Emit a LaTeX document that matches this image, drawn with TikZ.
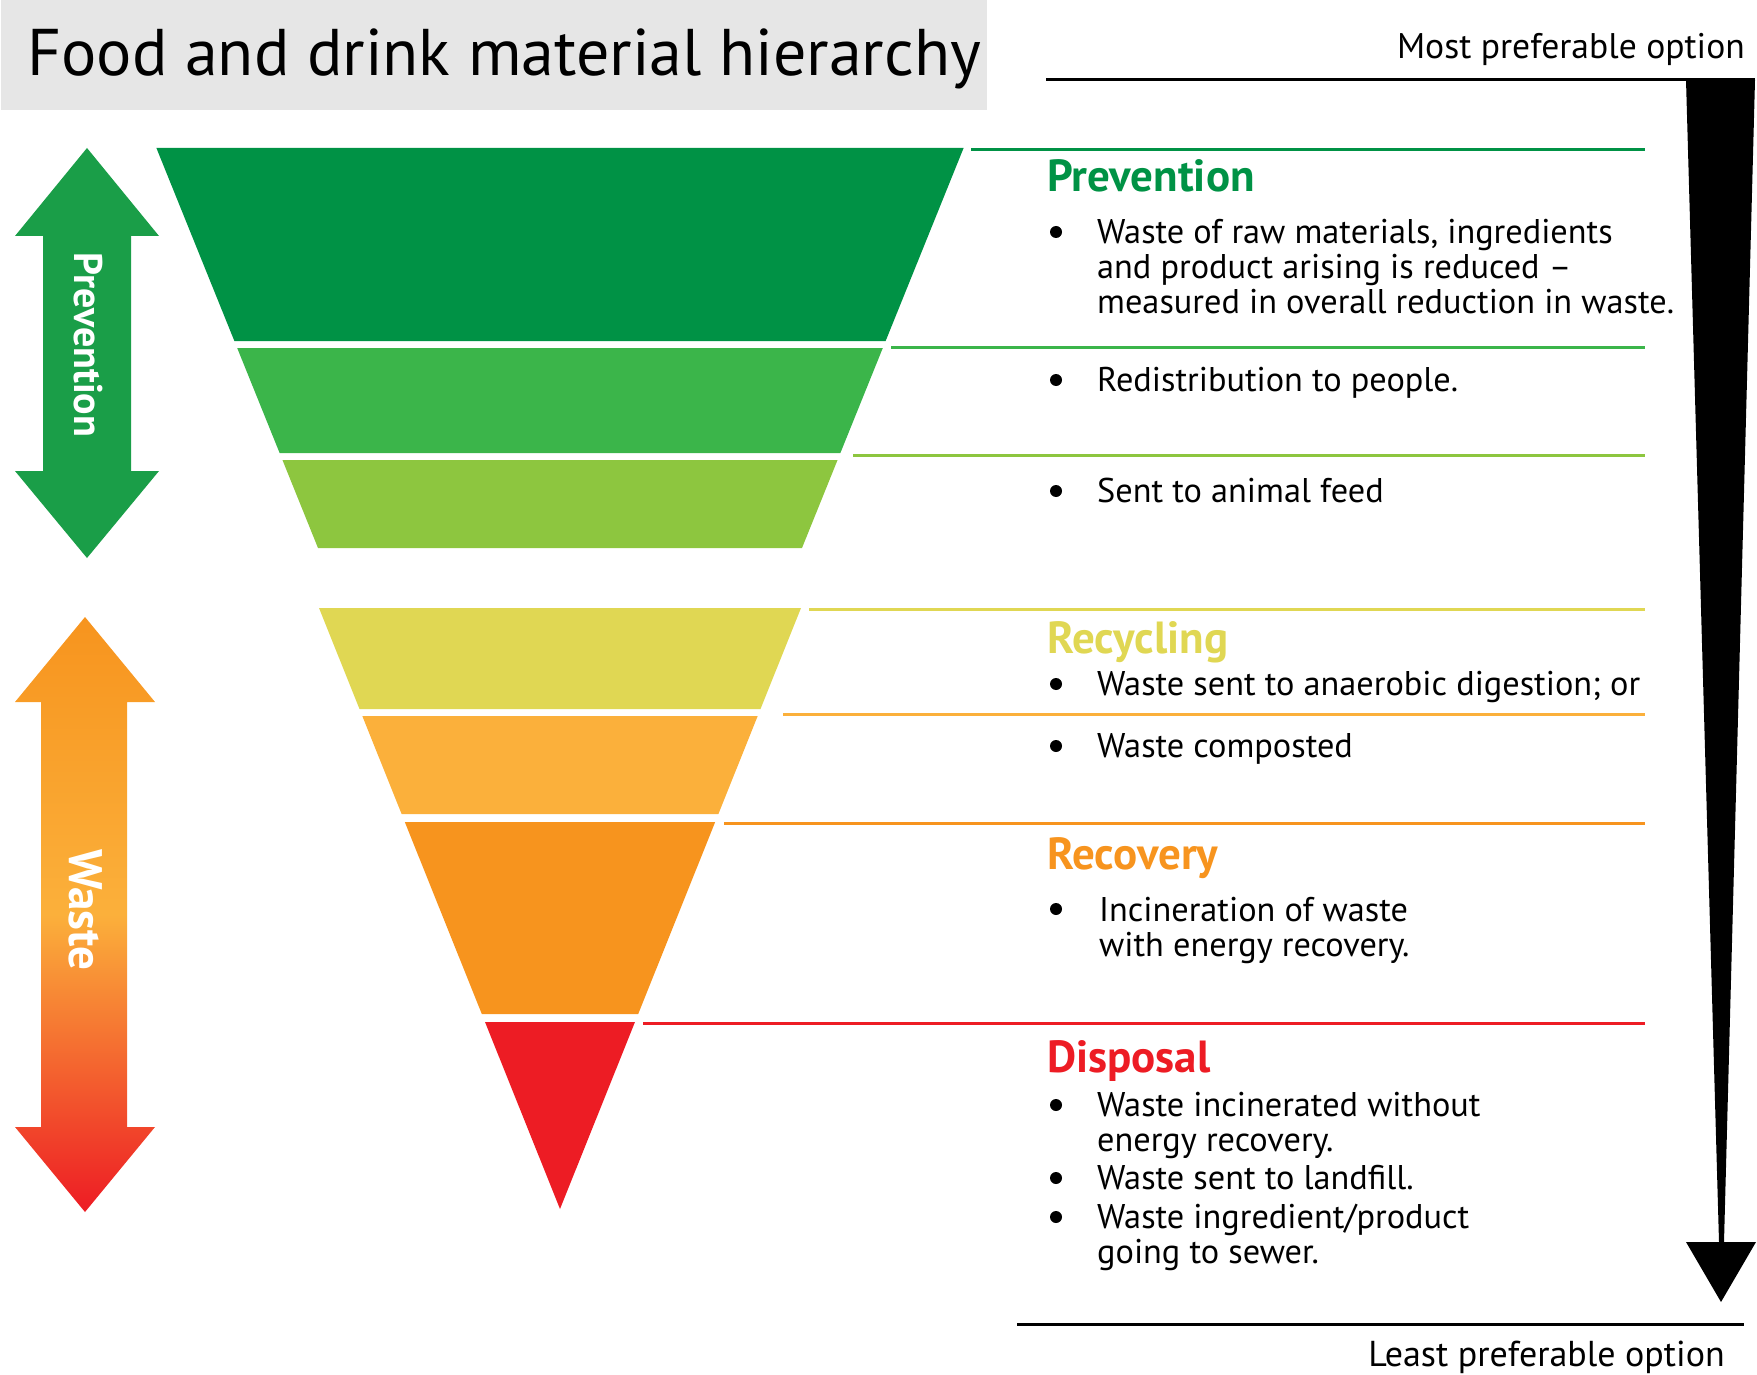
\documentclass[tikz,border=0pt]{standalone}
\usepackage{fontspec}
\setmainfont{PT Sans}
\definecolor{dgreen}{RGB}{0,146,69}
\definecolor{mgreen}{RGB}{59,181,74}
\definecolor{lgreen}{RGB}{141,198,63}
\definecolor{yel}{RGB}{224,215,83}
\definecolor{lorange}{RGB}{251,176,59}
\definecolor{orng}{RGB}{247,148,30}
\definecolor{rd}{RGB}{237,28,36}
\definecolor{agreen}{RGB}{26,158,72}
\definecolor{tgray}{RGB}{230,230,230}
\tikzset{
	head/.style={anchor=base west, inner sep=0pt, font=\fontsize{45}{45}\selectfont\bfseries},
	item/.style={anchor=base west, inner sep=0pt, align=left, font=\fontsize{34.3}{35}\selectfont},
	vtext/.style={rotate=-90, inner sep=0pt, text=white, font=\bfseries},
	rule/.style={line width=3pt},
}
\begin{document}
\begin{tikzpicture}[x=1pt, y=-1pt]
	\useasboundingbox (0,0) rectangle (1757,1375);
	% title
	\fill[tgray] (1,0) rectangle (987,110);
	\node[anchor=base west, inner sep=0pt, font=\fontsize{66}{66}\selectfont] (title) at (27,76) {Food and drink material hierarchy};
	% side arrows
	\fill[agreen] (87,148) -- (159,236) -- (131,236) -- (131,471) -- (159,471) -- (87,558) -- (15,471) -- (43,471) -- (43,236) -- (15,236) -- cycle;
	\shade[top color=orng, bottom color=rd, middle color=lorange] (85,617) -- (155,702) -- (127,702) -- (127,1127) -- (155,1127) -- (85,1212) -- (15,1127) -- (41,1127) -- (41,702) -- (15,702) -- cycle;
	\node[vtext, font=\fontsize{40}{40}\selectfont\bfseries] (prev) at (88,345) {Prevention};
	\node[vtext, font=\fontsize{47}{47}\selectfont\bfseries] (waste) at (86,910) {Waste};
	% funnel, upper and lower part
	\foreach \c/\a/\b in {dgreen/148/341, mgreen/348/453, lgreen/460/548}
		\fill[\c] ({560-0.404*(1147-\a)},\a) -- ({560+0.404*(1147-\a)},\a) -- ({560+0.404*(1147-\b)},\b) -- ({560-0.404*(1147-\b)},\b) -- cycle;
	\foreach \c/\a/\b in {yel/608/709, lorange/716/814, orng/822/1014, rd/1022/1209}
		\fill[\c] ({560-0.401*(1209-\a)},\a) -- ({560+0.401*(1209-\a)},\a) -- ({560+0.401*(1209-\b)},\b) -- ({560-0.401*(1209-\b)},\b) -- cycle;
	% rules
	\foreach \c/\x/\y in {dgreen/971/150, mgreen/891/347, lgreen/853/455, yel/809/609, lorange/783/714, orng/724/823, rd/643/1023}
		\draw[rule, \c] (\x,\y) -- (1645,\y);
	\draw[rule]
		(1046,80) -- (1755,80)
		(1017,1324) -- (1744,1324)
	;
	\fill (1686,80) -- (1755,80) -- (1724,1242) -- (1756,1242) -- (1721,1302) -- (1686,1242) -- (1719,1242) -- cycle;
	\node[anchor=base east, inner sep=0pt, font=\fontsize{35.6}{35.6}\selectfont] (most) at (1745,59) {Most preferable option};
	\node[anchor=base east, inner sep=0pt, font=\fontsize{36}{36}\selectfont] (least) at (1725,1366) {Least preferable option};
	% headings
	\node[head, text=dgreen] (hprev) at (1047,192) {Prevention};
	\node[head, text=yel] (hrecy) at (1047,653) {Recycling};
	\node[head, text=orng] (hreco) at (1047,869) {Recovery};
	\node[head, text=rd] (hdisp) at (1047,1072) {Disposal};
	% bullets and items (anchored at the last line)
	\foreach \y in {232,380,491,684,746,909,1105,1178,1217}
		\fill (1056,\y) circle (6);
	\node[item] (p1) at (1097,313) {Waste of raw materials, ingredients\\and product arising is reduced –\\measured in overall reduction in waste.};
	\node[item] (p2) at (1097,391) {Redistribution to people.};
	\node[item] (p3) at (1097,502) {Sent to animal feed};
	\node[item] (r1) at (1097,695) {Waste sent to anaerobic digestion; or};
	\node[item] (r2) at (1097,757) {Waste composted};
	\node[item] (v1) at (1099,956) {Incineration of waste\\with energy recovery.};
	\node[item] (d1) at (1097,1151) {Waste incinerated without\\energy recovery.};
	\node[item] (d2) at (1097,1189) {Waste sent to landfill.};
	\node[item] (d3) at (1097,1263) {Waste ingredient/product\\going to sewer.};
\end{tikzpicture}
\end{document}
